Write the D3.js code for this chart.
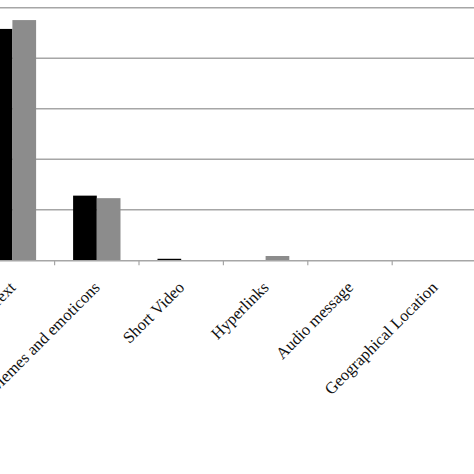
<!DOCTYPE html>
<html>
<head>
<meta charset="utf-8">
<script src="https://cdn.jsdelivr.net/npm/d3@7"></script>
<style>
	body { margin: 0; background: #fff; }
	svg { display: block; }
</style>
</head>
<body>
<svg id="chart" width="474" height="474"></svg>
<script>
// chart data (y axis 0-100)
var categories = ["Text", "Memes and emoticons", "Short Video", "Hyperlinks", "Audio message", "Geographical Location"];
var seriesNames = ["Series 1", "Series 2"];
var series1 = [91.6, 25.6, 0.6, 0, 0, 0];
var series2 = [95.1, 24.6, 0, 1.7, 0, 0];
var yTicks = [0, 20, 40, 60, 80, 100];
var colors = ["#000000", "#8c8c8c"];

var svg = d3.select("#chart");
svg.append("rect").attr("width", 474).attr("height", 474).attr("fill", "#fff");

// plot area - the left part of the original chart is cut off
var plotLeft = -29.8, plotRight = 476.6, plotTop = 7.7, plotBottom = 260.3;

var x = d3.scaleBand()
	.domain(categories)
	.range([plotLeft, plotRight]);

var y = d3.scaleLinear()
	.domain([0, 100])
	.range([plotBottom, plotTop]);

var xs = d3.scaleBand()
	.domain(seriesNames)
	.range([0, 47.4]);

// gridlines
svg.append("g")
	.selectAll("line")
	.data(yTicks.slice(1))
	.enter()
	.append("line")
	.attr("x1", plotLeft)
	.attr("x2", plotRight)
	.attr("y1", function(d){ return y(d); })
	.attr("y2", function(d){ return y(d); })
	.attr("stroke", "#a6a6a6")
	.attr("stroke-width", 1.5);

// bars
var table = categories.map(function(c, i){
	return { cat: c, values: [series1[i], series2[i]] };
});

var groups = svg.selectAll(".grp").data(table)
	.enter()
	.append("g")
	.attr("class", "grp")
	.attr("transform", function(d){
		return "translate(" + (x(d.cat) + x.bandwidth() / 2 - 23.7) + ",0)";
	});

groups.selectAll("rect")
	.data(function(d){
		return d.values.map(function(v, j){ return { name: seriesNames[j], v: v, j: j }; });
	})
	.enter()
	.append("rect")
	.attr("x", function(d){ return xs(d.name); })
	.attr("width", xs.bandwidth())
	.attr("y", function(d){ return y(d.v); })
	.attr("height", function(d){ return y(0) - y(d.v); })
	.attr("fill", function(d){ return colors[d.j]; });

// x axis
var xAxis = d3.axisBottom(x).tickSize(0).tickFormat("");
var gx = svg.append("g")
	.attr("transform", "translate(0," + plotBottom + ")")
	.call(xAxis);
gx.select(".domain").attr("stroke", "#a6a6a6").attr("stroke-width", 1.5);

// tick marks sit between the categories
svg.append("g")
	.selectAll("line")
	.data(categories.slice(1))
	.enter()
	.append("line")
	.attr("x1", function(d){ return x(d); })
	.attr("x2", function(d){ return x(d); })
	.attr("y1", plotBottom)
	.attr("y2", plotBottom + 5)
	.attr("stroke", "#a6a6a6")
	.attr("stroke-width", 1.2);

// rotated category labels
svg.append("g")
	.selectAll("text")
	.data(categories)
	.enter()
	.append("text")
	.attr("transform", function(d){
		return "translate(" + (x(d) + x.bandwidth() / 2) + "," + (plotBottom + 24) + ") rotate(-45)";
	})
	.attr("text-anchor", "end")
	.attr("dy", "0.35em")
	.attr("font-family", "'Liberation Serif', 'Times New Roman', serif")
	.attr("font-size", 16.5)
	.attr("fill", "#111")
	.text(function(d){ return d; });
</script>
</body>
</html>
